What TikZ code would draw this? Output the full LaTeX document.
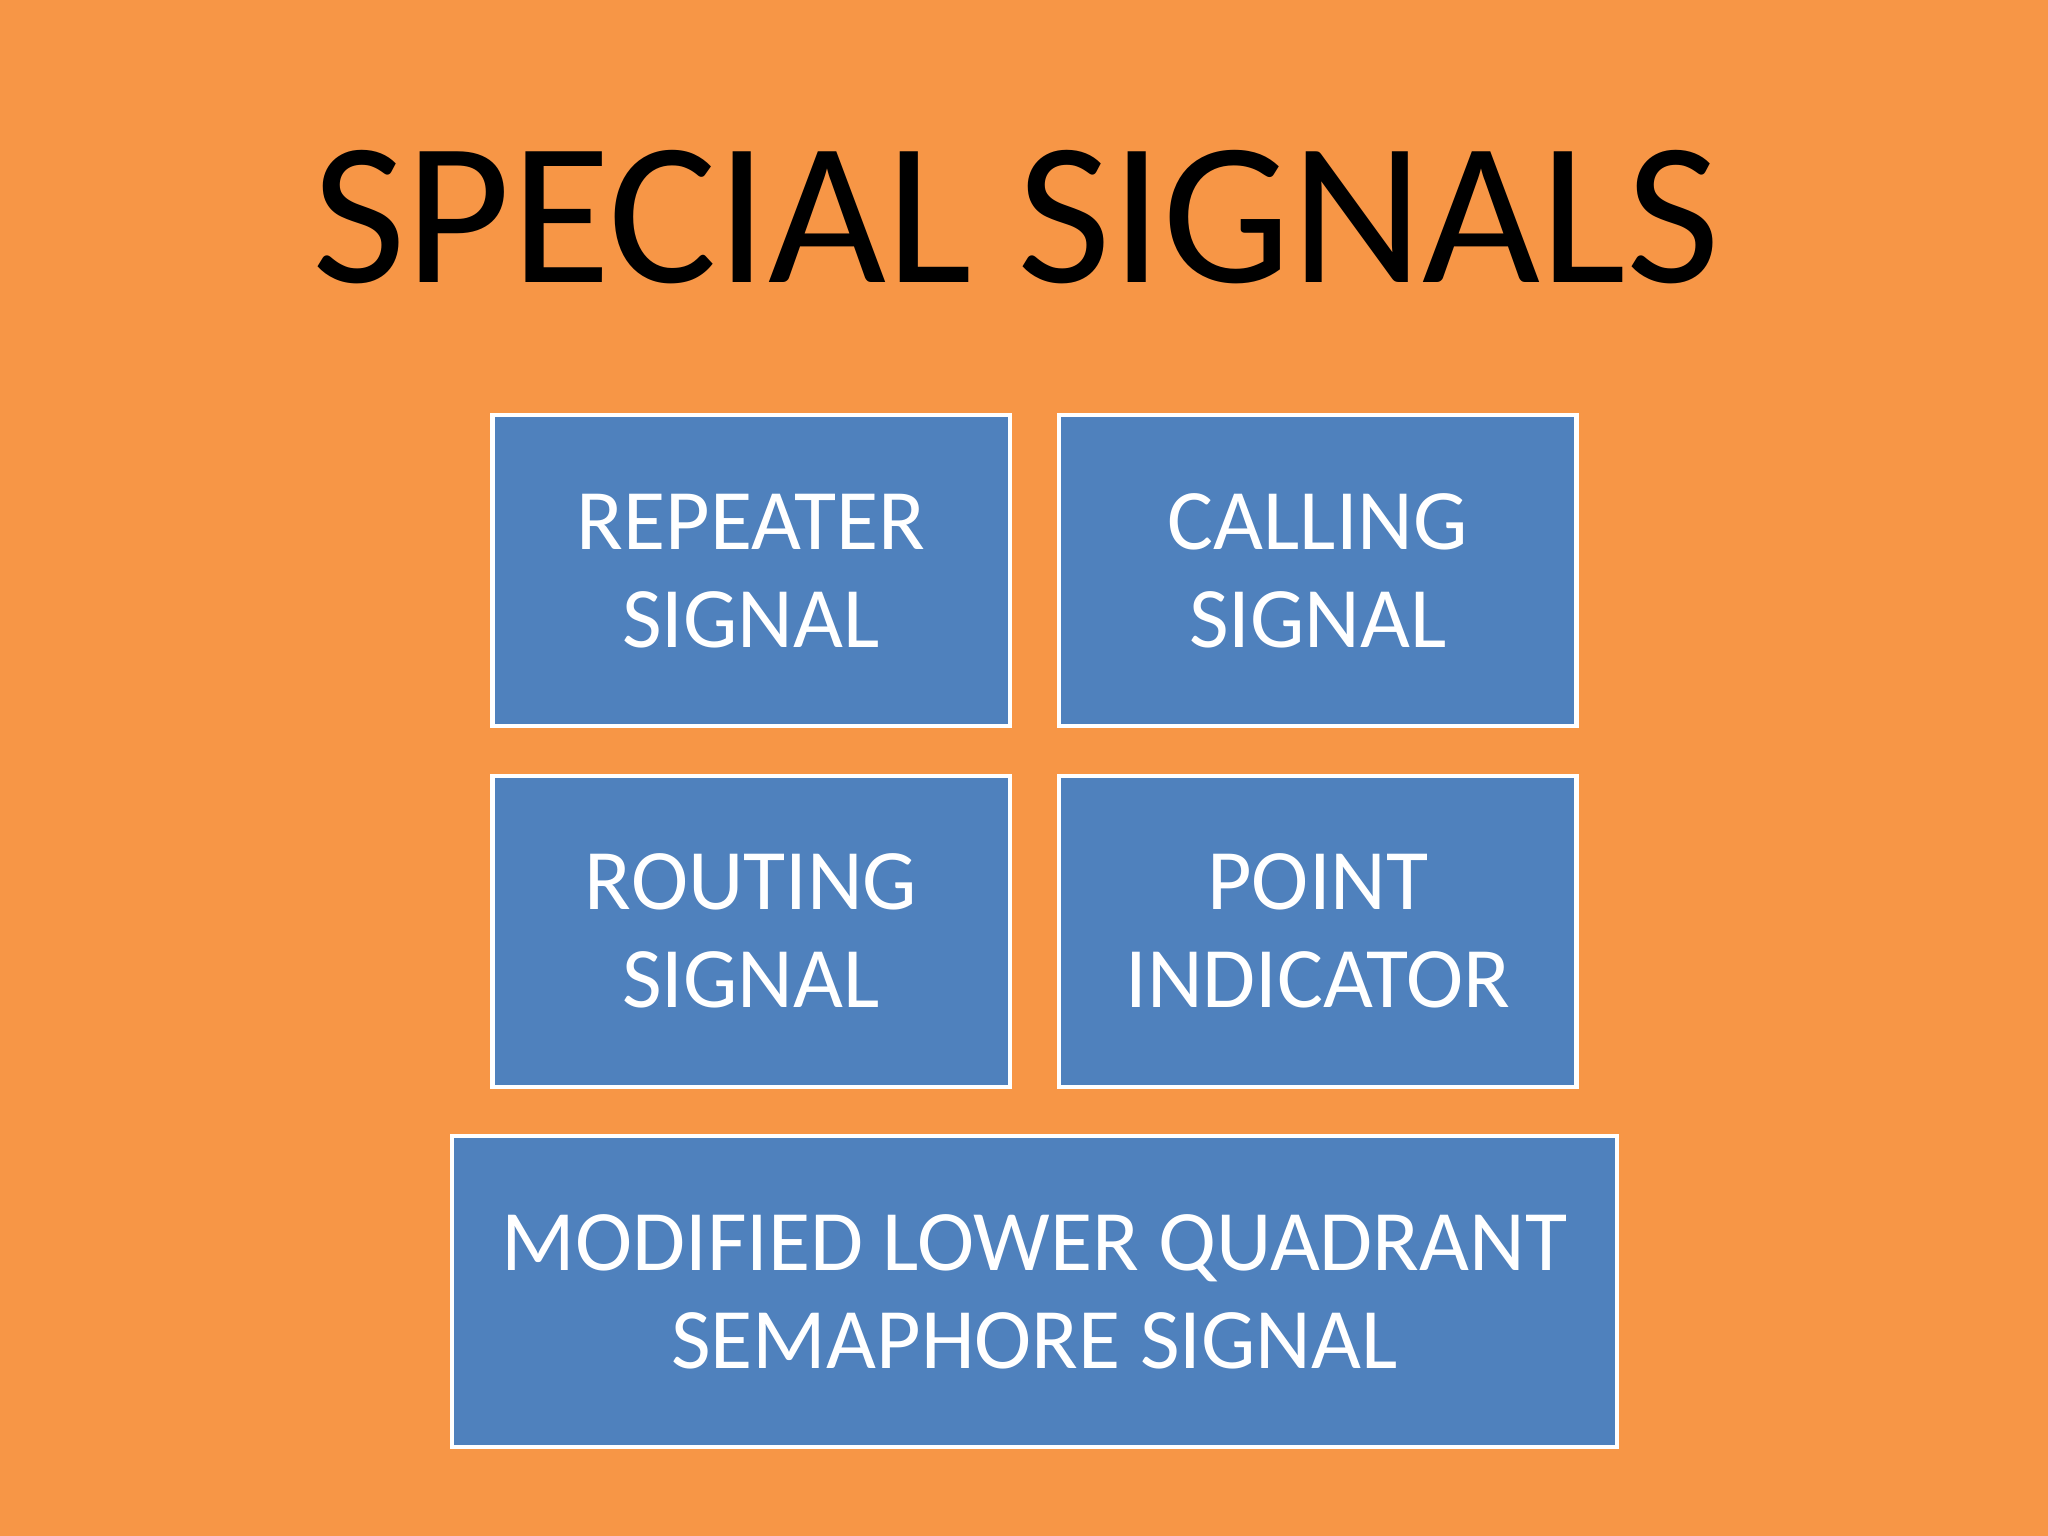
\documentclass[tikz,border=0pt]{standalone}
\usepackage{fontspec}
\setmainfont{Carlito}
\definecolor{bg}{HTML}{F79646}
\definecolor{bx}{HTML}{4F81BD}
\begin{document}
\begin{tikzpicture}[x=0.5pt,y=-0.5pt,
  box/.style={draw=white,line width=1.6pt,fill=bx,text=white,align=center,
    font=\fontsize{33}{37.5}\selectfont,inner sep=0pt}]
\fill[bg] (0,0) rectangle (1568,1176);
\node (title) at (778,166) {\fontsize{78}{80}\selectfont SPECIAL SIGNALS};
\node[box,minimum width=198pt,minimum height=119pt] (b1) at (575,437) {REPEATER\\SIGNAL};
\node[box,minimum width=198pt,minimum height=119pt] (b2) at (1009,437) {CALLING\\SIGNAL};
\node[box,minimum width=198pt,minimum height=119pt] (b3) at (575,713) {ROUTING\\SIGNAL};
\node[box,minimum width=198pt,minimum height=119pt] (b4) at (1009,713) {POINT\\INDICATOR};
\node[box,minimum width=446pt,minimum height=119pt] (b5) at (792,989) {MODIFIED LOWER QUADRANT\\SEMAPHORE SIGNAL};
\end{tikzpicture}
\end{document}
